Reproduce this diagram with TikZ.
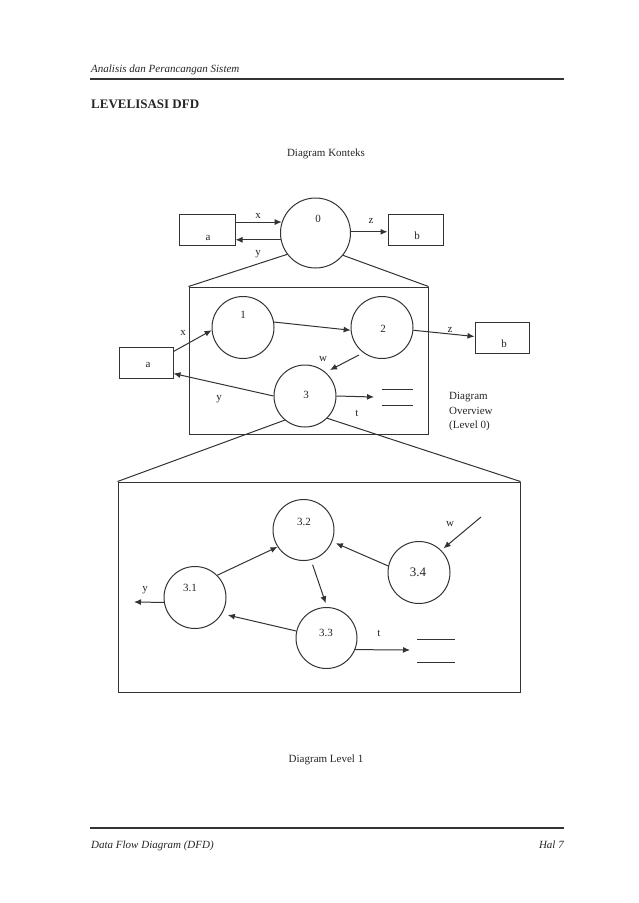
\documentclass[tikz,border=0pt]{standalone}
\usepackage{fontspec}
\setmainfont{Liberation Serif}
\usetikzlibrary{arrows.meta}
\begin{document}
\begin{tikzpicture}[x=1pt,y=-1pt,
  every node/.style={font=\fontsize{11}{13}\selectfont, text=black!85},
  proc/.style={draw=black!80, line width=1pt, circle, inner sep=0pt},
  ent/.style={draw=black!80, line width=1pt, rectangle, inner sep=0pt},
  flow/.style={draw=black!80, line width=1pt, -{Latex[length=7pt,width=6pt]}},
  plain/.style={draw=black!80, line width=1pt},
  lbl/.style={inner sep=0pt, anchor=base}]
\useasboundingbox (0,0) rectangle (638,903);
\fill[white] (0,0) rectangle (638,903);

% header / footer
\node[lbl, anchor=base west, font=\fontsize{11}{13}\selectfont\itshape] (hdr) at (91,72) {Analisis dan Perancangan Sistem};
\coordinate (hl1) at (90,79); \coordinate (hl2) at (564,79);
\draw[line width=1.4pt, black!80] (hl1) -- (hl2);
\node[lbl, anchor=base west, font=\fontsize{13}{15}\selectfont\bfseries] (ttl) at (91,108) {LEVELISASI DFD};
\coordinate (fl1) at (90,828); \coordinate (fl2) at (564,828);
\draw[line width=1.4pt, black!80] (fl1) -- (fl2);
\node[lbl, anchor=base west, font=\fontsize{11}{13}\selectfont\itshape] (ftl) at (91,848) {Data Flow Diagram (DFD)};
\node[lbl, anchor=base east, font=\fontsize{11}{13}\selectfont\itshape] (ftr) at (564,848) {Hal 7};

% ---------------- Context diagram ----------------
\node[lbl] (tk) at (326,156) {Diagram Konteks};
\node[ent, minimum width=56pt, minimum height=31pt] (a0) at (207,229.5) {};
\node[ent, minimum width=55pt, minimum height=31pt] (b0) at (415.5,229.5) {};
\node[proc, minimum size=70pt] (c0) at (315.5,233) {};
\node[lbl] at (208,240) {a};
\node[lbl] at (417,239) {b};
\node[lbl] at (318,222) {0};
\draw[flow] (a0.east |- c0.162) -- (c0.162);
\draw[flow] (c0.191.5) -- (a0.east |- c0.191.5);
\draw[flow] (c0.2) -- (b0.west |- c0.2);
\node[lbl] at (258,218) {x};
\node[lbl] at (258,255) {y};
\node[lbl] at (371,223) {z};

% ---------------- Level 0 ----------------
\node[ent, minimum width=239pt, minimum height=147pt] (L0) at (308.5,360.5) {};
\draw[plain] (c0.217.7) -- (L0.north west);
\draw[plain] (c0.321.3) -- (L0.north east);

\node[ent, minimum width=54pt, minimum height=31pt] (a1) at (146,362.5) {};
\node[ent, minimum width=54pt, minimum height=31pt] (b1) at (502,337.5) {};
\node[proc, minimum size=62pt] (c1) at (243,327.5) {};
\node[proc, minimum size=62pt] (c2) at (382,327.5) {};
\node[proc, minimum size=62pt] (c3) at (305,396) {};
\node[lbl] at (148,367) {a};
\node[lbl] at (504,347) {b};
\node[lbl] at (243,318) {1};
\node[lbl] at (383,332) {2};
\node[lbl] at (306,398) {3};

\draw[flow] ([yshift=-5pt]a1.north east) -- (c1.185);
\draw[flow] (c1.10) -- (c2.185);
\draw[flow] (c2.355) -- ([yshift=-15pt]b1.north west);
\coordinate (wS) at (359,355); \coordinate (wE) at (330,370);
\draw[flow] (wS) -- (wE);
\draw[flow] (c3.180) -- ([yshift=5pt]a1.south east);
\coordinate (tE) at (374,397);
\draw[flow] (c3.0) -- (tE);
\coordinate (s1a) at (382,389); \coordinate (s1b) at (413,389);
\coordinate (s2a) at (382,405); \coordinate (s2b) at (413,405);
\draw[plain] (s1a) -- (s1b);
\draw[plain] (s2a) -- (s2b);
\node[lbl] at (183,335) {x};
\node[lbl] at (450,332) {z};
\node[lbl] at (323,361) {w};
\node[lbl] at (219,400) {y};
\node[lbl] at (357,416) {t};
\node[lbl, anchor=base west] at (449,399) {Diagram};
\node[lbl, anchor=base west] at (449,414) {Overview};
\node[lbl, anchor=base west] at (449,428) {(Level 0)};

% ---------------- Level 1 ----------------
\node[ent, minimum width=402pt, minimum height=210pt] (L1) at (319,587) {};
\draw[plain] (c3.230) -- (L1.north west);
\draw[plain] (c3.315) -- (L1.north east);

\node[proc, minimum size=62pt] (d1) at (195,597.5) {};
\node[proc, minimum size=61pt] (d2) at (303.5,530) {};
\node[proc, minimum size=61pt] (d3) at (326.5,638) {};
\node[proc, minimum size=62pt] (d4) at (419,572.5) {};
\node[lbl] at (190,591) {3.1};
\node[lbl] at (304,525) {3.2};
\node[lbl] at (326,636) {3.3};
\node[lbl, font=\fontsize{13}{15}\selectfont] at (418,576) {3.4};

\draw[flow] (d1.45.6) -- (d2.213);
\draw[flow, shorten <=5pt, shorten >=4pt] (d2.284) -- (d3.89);
\draw[flow, shorten >=4pt] (d4.168) -- (d2.338);
\draw[flow, shorten >=6pt] (d3.167) -- (d1.329);
\coordinate (yE) at (134,602);
\draw[flow] (d1.189) -- (yE);
\coordinate (wS1) at (481,517);
\draw[flow, shorten >=3pt] (wS1) -- (d4.45.6);
\coordinate (tE1) at (410,650);
\draw[flow] (d3.338.5) -- (tE1);
\coordinate (u1a) at (417,639); \coordinate (u1b) at (455,639);
\coordinate (u2a) at (417,662); \coordinate (u2b) at (455,662);
\draw[plain] (u1a) -- (u1b);
\draw[plain] (u2a) -- (u2b);
\node[lbl] at (145,591) {y};
\node[lbl] at (450,526) {w};
\node[lbl] at (379,636) {t};

\node[lbl] (tl1) at (326,762) {Diagram Level 1};
\end{tikzpicture}
\end{document}
